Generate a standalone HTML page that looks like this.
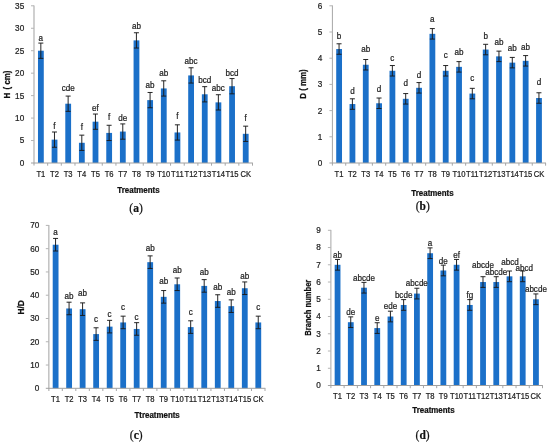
<!DOCTYPE html>
<html><head><meta charset="utf-8"><title>Figure</title>
<style>html,body{margin:0;padding:0;background:#fff}svg{display:block}</style></head>
<body>
<svg width="550" height="445" viewBox="0 0 550 445">
<rect width="550" height="445" fill="#fff"/>
<g><rect x="37.98" y="50.71" width="5.8" height="112.29" fill="#1b70c9"/>
<rect x="51.63" y="139.64" width="5.8" height="23.36" fill="#1b70c9"/>
<rect x="65.29" y="103.71" width="5.8" height="59.29" fill="#1b70c9"/>
<rect x="78.95" y="142.79" width="5.8" height="20.21" fill="#1b70c9"/>
<rect x="92.60" y="121.68" width="5.8" height="41.32" fill="#1b70c9"/>
<rect x="106.26" y="132.91" width="5.8" height="30.09" fill="#1b70c9"/>
<rect x="119.92" y="131.56" width="5.8" height="31.44" fill="#1b70c9"/>
<rect x="133.57" y="40.38" width="5.8" height="122.62" fill="#1b70c9"/>
<rect x="147.23" y="100.12" width="5.8" height="62.88" fill="#1b70c9"/>
<rect x="160.88" y="88.44" width="5.8" height="74.56" fill="#1b70c9"/>
<rect x="174.54" y="132.46" width="5.8" height="30.54" fill="#1b70c9"/>
<rect x="188.20" y="75.42" width="5.8" height="87.58" fill="#1b70c9"/>
<rect x="201.85" y="94.28" width="5.8" height="68.72" fill="#1b70c9"/>
<rect x="215.51" y="102.37" width="5.8" height="60.63" fill="#1b70c9"/>
<rect x="229.17" y="86.20" width="5.8" height="76.80" fill="#1b70c9"/>
<rect x="242.82" y="133.81" width="5.8" height="29.19" fill="#1b70c9"/>
<path d="M34.00 5.40V165.60" stroke="#c4c4c4" stroke-width="1.6" fill="none"/>
<path d="M31.00 163.00H252.90" stroke="#a0a0a0" stroke-width="1" fill="none"/>
<path d="M31.00 140.54H34.00M31.00 118.09H34.00M31.00 95.63H34.00M31.00 73.17H34.00M31.00 50.71H34.00M31.00 28.26H34.00M31.00 5.80H34.00" stroke="#b4b4b4" stroke-width="1" fill="none"/>
<text transform="translate(24.20,165.90) scale(1.0,1)" font-size="8.2" text-anchor="end" font-weight="normal" font-family="'Liberation Sans',sans-serif" fill="#222" stroke="#222" stroke-width="0.22">0</text>
<text transform="translate(24.20,143.44) scale(1.0,1)" font-size="8.2" text-anchor="end" font-weight="normal" font-family="'Liberation Sans',sans-serif" fill="#222" stroke="#222" stroke-width="0.22">5</text>
<text transform="translate(24.20,120.99) scale(1.0,1)" font-size="8.2" text-anchor="end" font-weight="normal" font-family="'Liberation Sans',sans-serif" fill="#222" stroke="#222" stroke-width="0.22">10</text>
<text transform="translate(24.20,98.53) scale(1.0,1)" font-size="8.2" text-anchor="end" font-weight="normal" font-family="'Liberation Sans',sans-serif" fill="#222" stroke="#222" stroke-width="0.22">15</text>
<text transform="translate(24.20,76.07) scale(1.0,1)" font-size="8.2" text-anchor="end" font-weight="normal" font-family="'Liberation Sans',sans-serif" fill="#222" stroke="#222" stroke-width="0.22">20</text>
<text transform="translate(24.20,53.61) scale(1.0,1)" font-size="8.2" text-anchor="end" font-weight="normal" font-family="'Liberation Sans',sans-serif" fill="#222" stroke="#222" stroke-width="0.22">25</text>
<text transform="translate(24.20,31.16) scale(1.0,1)" font-size="8.2" text-anchor="end" font-weight="normal" font-family="'Liberation Sans',sans-serif" fill="#222" stroke="#222" stroke-width="0.22">30</text>
<text transform="translate(24.20,8.70) scale(1.0,1)" font-size="8.2" text-anchor="end" font-weight="normal" font-family="'Liberation Sans',sans-serif" fill="#222" stroke="#222" stroke-width="0.22">35</text>
<path d="M47.66 163.00V165.70M61.31 163.00V165.70M74.97 163.00V165.70M88.62 163.00V165.70M102.28 163.00V165.70M115.94 163.00V165.70M129.59 163.00V165.70M143.25 163.00V165.70M156.91 163.00V165.70M170.56 163.00V165.70M184.22 163.00V165.70M197.88 163.00V165.70M211.53 163.00V165.70M225.19 163.00V165.70M238.84 163.00V165.70M252.50 163.00V165.70" stroke="#a6a6a6" stroke-width="1" fill="none"/>
<text transform="translate(40.83,40.70) scale(0.95,1)" font-size="8.5" text-anchor="middle" font-weight="normal" font-family="'Liberation Sans',sans-serif" fill="#222" stroke="#222" stroke-width="0.22">a</text>
<text transform="translate(40.83,177.00) scale(0.93,1)" font-size="8.2" text-anchor="middle" font-weight="normal" font-family="'Liberation Sans',sans-serif" fill="#222" stroke="#222" stroke-width="0.22">T1</text>
<text transform="translate(54.48,128.80) scale(0.95,1)" font-size="8.5" text-anchor="middle" font-weight="normal" font-family="'Liberation Sans',sans-serif" fill="#222" stroke="#222" stroke-width="0.22">f</text>
<text transform="translate(54.48,177.00) scale(0.93,1)" font-size="8.2" text-anchor="middle" font-weight="normal" font-family="'Liberation Sans',sans-serif" fill="#222" stroke="#222" stroke-width="0.22">T2</text>
<text transform="translate(68.14,90.80) scale(0.95,1)" font-size="8.5" text-anchor="middle" font-weight="normal" font-family="'Liberation Sans',sans-serif" fill="#222" stroke="#222" stroke-width="0.22">cde</text>
<text transform="translate(68.14,177.00) scale(0.93,1)" font-size="8.2" text-anchor="middle" font-weight="normal" font-family="'Liberation Sans',sans-serif" fill="#222" stroke="#222" stroke-width="0.22">T3</text>
<text transform="translate(81.80,130.10) scale(0.95,1)" font-size="8.5" text-anchor="middle" font-weight="normal" font-family="'Liberation Sans',sans-serif" fill="#222" stroke="#222" stroke-width="0.22">f</text>
<text transform="translate(81.80,177.00) scale(0.93,1)" font-size="8.2" text-anchor="middle" font-weight="normal" font-family="'Liberation Sans',sans-serif" fill="#222" stroke="#222" stroke-width="0.22">T4</text>
<text transform="translate(95.45,110.70) scale(0.95,1)" font-size="8.5" text-anchor="middle" font-weight="normal" font-family="'Liberation Sans',sans-serif" fill="#222" stroke="#222" stroke-width="0.22">ef</text>
<text transform="translate(95.45,177.00) scale(0.93,1)" font-size="8.2" text-anchor="middle" font-weight="normal" font-family="'Liberation Sans',sans-serif" fill="#222" stroke="#222" stroke-width="0.22">T5</text>
<text transform="translate(109.11,119.70) scale(0.95,1)" font-size="8.5" text-anchor="middle" font-weight="normal" font-family="'Liberation Sans',sans-serif" fill="#222" stroke="#222" stroke-width="0.22">f</text>
<text transform="translate(109.11,177.00) scale(0.93,1)" font-size="8.2" text-anchor="middle" font-weight="normal" font-family="'Liberation Sans',sans-serif" fill="#222" stroke="#222" stroke-width="0.22">T6</text>
<text transform="translate(122.77,121.00) scale(0.95,1)" font-size="8.5" text-anchor="middle" font-weight="normal" font-family="'Liberation Sans',sans-serif" fill="#222" stroke="#222" stroke-width="0.22">de</text>
<text transform="translate(122.77,177.00) scale(0.93,1)" font-size="8.2" text-anchor="middle" font-weight="normal" font-family="'Liberation Sans',sans-serif" fill="#222" stroke="#222" stroke-width="0.22">T7</text>
<text transform="translate(136.42,28.90) scale(0.95,1)" font-size="8.5" text-anchor="middle" font-weight="normal" font-family="'Liberation Sans',sans-serif" fill="#222" stroke="#222" stroke-width="0.22">ab</text>
<text transform="translate(136.42,177.00) scale(0.93,1)" font-size="8.2" text-anchor="middle" font-weight="normal" font-family="'Liberation Sans',sans-serif" fill="#222" stroke="#222" stroke-width="0.22">T8</text>
<text transform="translate(150.08,87.60) scale(0.95,1)" font-size="8.5" text-anchor="middle" font-weight="normal" font-family="'Liberation Sans',sans-serif" fill="#222" stroke="#222" stroke-width="0.22">ab</text>
<text transform="translate(150.08,177.00) scale(0.93,1)" font-size="8.2" text-anchor="middle" font-weight="normal" font-family="'Liberation Sans',sans-serif" fill="#222" stroke="#222" stroke-width="0.22">T9</text>
<text transform="translate(163.73,76.00) scale(0.95,1)" font-size="8.5" text-anchor="middle" font-weight="normal" font-family="'Liberation Sans',sans-serif" fill="#222" stroke="#222" stroke-width="0.22">ab</text>
<text transform="translate(163.73,177.00) scale(0.93,1)" font-size="8.2" text-anchor="middle" font-weight="normal" font-family="'Liberation Sans',sans-serif" fill="#222" stroke="#222" stroke-width="0.22">T10</text>
<text transform="translate(177.39,118.50) scale(0.95,1)" font-size="8.5" text-anchor="middle" font-weight="normal" font-family="'Liberation Sans',sans-serif" fill="#222" stroke="#222" stroke-width="0.22">f</text>
<text transform="translate(177.39,177.00) scale(0.93,1)" font-size="8.2" text-anchor="middle" font-weight="normal" font-family="'Liberation Sans',sans-serif" fill="#222" stroke="#222" stroke-width="0.22">T11</text>
<text transform="translate(191.05,64.40) scale(0.95,1)" font-size="8.5" text-anchor="middle" font-weight="normal" font-family="'Liberation Sans',sans-serif" fill="#222" stroke="#222" stroke-width="0.22">abc</text>
<text transform="translate(191.05,177.00) scale(0.93,1)" font-size="8.2" text-anchor="middle" font-weight="normal" font-family="'Liberation Sans',sans-serif" fill="#222" stroke="#222" stroke-width="0.22">T12</text>
<text transform="translate(204.70,82.60) scale(0.95,1)" font-size="8.5" text-anchor="middle" font-weight="normal" font-family="'Liberation Sans',sans-serif" fill="#222" stroke="#222" stroke-width="0.22">bcd</text>
<text transform="translate(204.70,177.00) scale(0.93,1)" font-size="8.2" text-anchor="middle" font-weight="normal" font-family="'Liberation Sans',sans-serif" fill="#222" stroke="#222" stroke-width="0.22">T13</text>
<text transform="translate(218.36,91.00) scale(0.95,1)" font-size="8.5" text-anchor="middle" font-weight="normal" font-family="'Liberation Sans',sans-serif" fill="#222" stroke="#222" stroke-width="0.22">abc</text>
<text transform="translate(218.36,177.00) scale(0.93,1)" font-size="8.2" text-anchor="middle" font-weight="normal" font-family="'Liberation Sans',sans-serif" fill="#222" stroke="#222" stroke-width="0.22">T14</text>
<text transform="translate(232.02,75.70) scale(0.95,1)" font-size="8.5" text-anchor="middle" font-weight="normal" font-family="'Liberation Sans',sans-serif" fill="#222" stroke="#222" stroke-width="0.22">bcd</text>
<text transform="translate(232.02,177.00) scale(0.93,1)" font-size="8.2" text-anchor="middle" font-weight="normal" font-family="'Liberation Sans',sans-serif" fill="#222" stroke="#222" stroke-width="0.22">T15</text>
<text transform="translate(245.67,121.00) scale(0.95,1)" font-size="8.5" text-anchor="middle" font-weight="normal" font-family="'Liberation Sans',sans-serif" fill="#222" stroke="#222" stroke-width="0.22">f</text>
<text transform="translate(245.67,177.00) scale(0.93,1)" font-size="8.2" text-anchor="middle" font-weight="normal" font-family="'Liberation Sans',sans-serif" fill="#222" stroke="#222" stroke-width="0.22">CK</text>
<path d="M40.83 43.08V58.35M38.33 43.08h5M38.33 58.35h5M54.48 132.01V147.28M51.98 132.01h5M51.98 147.28h5M68.14 96.08V111.35M65.64 96.08h5M65.64 111.35h5M81.80 135.15V150.42M79.30 135.15h5M79.30 150.42h5M95.45 114.04V129.31M92.95 114.04h5M92.95 129.31h5M109.11 125.27V140.54M106.61 125.27h5M106.61 140.54h5M122.77 123.92V139.20M120.27 123.92h5M120.27 139.20h5M136.42 32.75V48.02M133.92 32.75h5M133.92 48.02h5M150.08 92.48V107.76M147.58 92.48h5M147.58 107.76h5M163.73 80.81V96.08M161.23 80.81h5M161.23 96.08h5M177.39 124.82V140.09M174.89 124.82h5M174.89 140.09h5M191.05 67.78V83.05M188.55 67.78h5M188.55 83.05h5M204.70 86.65V101.92M202.20 86.65h5M202.20 101.92h5M218.36 94.73V110.00M215.86 94.73h5M215.86 110.00h5M232.02 78.56V93.83M229.52 78.56h5M229.52 93.83h5M245.67 126.17V141.44M243.17 126.17h5M243.17 141.44h5" stroke="#1a1a1a" stroke-width="0.95" fill="none"/>
<text transform="translate(10.30,84.50) rotate(-90) scale(0.92,1)" font-size="8.6" text-anchor="middle" font-weight="bold" font-family="'Liberation Sans',sans-serif" fill="#111" stroke="#111" stroke-width="0.25">H <tspan dx="1.2">( cm)</tspan></text>
<text transform="translate(138.50,193.00) scale(0.955,1)" font-size="8.3" text-anchor="middle" font-weight="bold" font-family="'Liberation Sans',sans-serif" fill="#111" stroke="#111" stroke-width="0.25">Treatments</text>
<text x="136" y="211.8" font-size="11.5" text-anchor="middle" font-family="'Liberation Serif',serif" fill="#111" stroke="#111" stroke-width="0.2">(<tspan font-weight="bold">a</tspan>)</text></g>
<g><rect x="336.21" y="49.03" width="5.8" height="113.97" fill="#1b70c9"/>
<rect x="349.54" y="104.05" width="5.8" height="58.95" fill="#1b70c9"/>
<rect x="362.86" y="64.75" width="5.8" height="98.25" fill="#1b70c9"/>
<rect x="376.19" y="103.26" width="5.8" height="59.74" fill="#1b70c9"/>
<rect x="389.51" y="70.78" width="5.8" height="92.22" fill="#1b70c9"/>
<rect x="402.84" y="98.81" width="5.8" height="64.19" fill="#1b70c9"/>
<rect x="416.16" y="87.81" width="5.8" height="75.19" fill="#1b70c9"/>
<rect x="429.49" y="33.83" width="5.8" height="129.17" fill="#1b70c9"/>
<rect x="442.81" y="70.78" width="5.8" height="92.22" fill="#1b70c9"/>
<rect x="456.14" y="66.85" width="5.8" height="96.15" fill="#1b70c9"/>
<rect x="469.46" y="93.57" width="5.8" height="69.43" fill="#1b70c9"/>
<rect x="482.79" y="49.55" width="5.8" height="113.45" fill="#1b70c9"/>
<rect x="496.11" y="56.37" width="5.8" height="106.63" fill="#1b70c9"/>
<rect x="509.44" y="62.65" width="5.8" height="100.35" fill="#1b70c9"/>
<rect x="522.76" y="60.82" width="5.8" height="102.18" fill="#1b70c9"/>
<rect x="536.09" y="98.02" width="5.8" height="64.98" fill="#1b70c9"/>
<path d="M332.40 5.40V165.60" stroke="#a6a6a6" stroke-width="1.0" fill="none"/>
<path d="M329.40 163.00H546.00" stroke="#a0a0a0" stroke-width="1" fill="none"/>
<path d="M329.40 136.80H332.40M329.40 110.60H332.40M329.40 84.40H332.40M329.40 58.20H332.40M329.40 32.00H332.40M329.40 5.80H332.40" stroke="#b4b4b4" stroke-width="1" fill="none"/>
<text transform="translate(322.20,165.90) scale(1.0,1)" font-size="8.2" text-anchor="end" font-weight="normal" font-family="'Liberation Sans',sans-serif" fill="#222" stroke="#222" stroke-width="0.22">0</text>
<text transform="translate(322.20,139.70) scale(1.0,1)" font-size="8.2" text-anchor="end" font-weight="normal" font-family="'Liberation Sans',sans-serif" fill="#222" stroke="#222" stroke-width="0.22">1</text>
<text transform="translate(322.20,113.50) scale(1.0,1)" font-size="8.2" text-anchor="end" font-weight="normal" font-family="'Liberation Sans',sans-serif" fill="#222" stroke="#222" stroke-width="0.22">2</text>
<text transform="translate(322.20,87.30) scale(1.0,1)" font-size="8.2" text-anchor="end" font-weight="normal" font-family="'Liberation Sans',sans-serif" fill="#222" stroke="#222" stroke-width="0.22">3</text>
<text transform="translate(322.20,61.10) scale(1.0,1)" font-size="8.2" text-anchor="end" font-weight="normal" font-family="'Liberation Sans',sans-serif" fill="#222" stroke="#222" stroke-width="0.22">4</text>
<text transform="translate(322.20,34.90) scale(1.0,1)" font-size="8.2" text-anchor="end" font-weight="normal" font-family="'Liberation Sans',sans-serif" fill="#222" stroke="#222" stroke-width="0.22">5</text>
<text transform="translate(322.20,8.70) scale(1.0,1)" font-size="8.2" text-anchor="end" font-weight="normal" font-family="'Liberation Sans',sans-serif" fill="#222" stroke="#222" stroke-width="0.22">6</text>
<path d="M345.72 163.00V165.70M359.05 163.00V165.70M372.38 163.00V165.70M385.70 163.00V165.70M399.02 163.00V165.70M412.35 163.00V165.70M425.68 163.00V165.70M439.00 163.00V165.70M452.32 163.00V165.70M465.65 163.00V165.70M478.98 163.00V165.70M492.30 163.00V165.70M505.62 163.00V165.70M518.95 163.00V165.70M532.28 163.00V165.70M545.60 163.00V165.70" stroke="#a6a6a6" stroke-width="1" fill="none"/>
<text transform="translate(339.06,39.40) scale(0.95,1)" font-size="8.5" text-anchor="middle" font-weight="normal" font-family="'Liberation Sans',sans-serif" fill="#222" stroke="#222" stroke-width="0.22">b</text>
<text transform="translate(339.06,176.50) scale(0.93,1)" font-size="8.2" text-anchor="middle" font-weight="normal" font-family="'Liberation Sans',sans-serif" fill="#222" stroke="#222" stroke-width="0.22">T1</text>
<text transform="translate(352.39,94.10) scale(0.95,1)" font-size="8.5" text-anchor="middle" font-weight="normal" font-family="'Liberation Sans',sans-serif" fill="#222" stroke="#222" stroke-width="0.22">d</text>
<text transform="translate(352.39,176.50) scale(0.93,1)" font-size="8.2" text-anchor="middle" font-weight="normal" font-family="'Liberation Sans',sans-serif" fill="#222" stroke="#222" stroke-width="0.22">T2</text>
<text transform="translate(365.71,51.70) scale(0.95,1)" font-size="8.5" text-anchor="middle" font-weight="normal" font-family="'Liberation Sans',sans-serif" fill="#222" stroke="#222" stroke-width="0.22">ab</text>
<text transform="translate(365.71,176.50) scale(0.93,1)" font-size="8.2" text-anchor="middle" font-weight="normal" font-family="'Liberation Sans',sans-serif" fill="#222" stroke="#222" stroke-width="0.22">T3</text>
<text transform="translate(379.04,91.60) scale(0.95,1)" font-size="8.5" text-anchor="middle" font-weight="normal" font-family="'Liberation Sans',sans-serif" fill="#222" stroke="#222" stroke-width="0.22">d</text>
<text transform="translate(379.04,176.50) scale(0.93,1)" font-size="8.2" text-anchor="middle" font-weight="normal" font-family="'Liberation Sans',sans-serif" fill="#222" stroke="#222" stroke-width="0.22">T4</text>
<text transform="translate(392.36,61.10) scale(0.95,1)" font-size="8.5" text-anchor="middle" font-weight="normal" font-family="'Liberation Sans',sans-serif" fill="#222" stroke="#222" stroke-width="0.22">c</text>
<text transform="translate(392.36,176.50) scale(0.93,1)" font-size="8.2" text-anchor="middle" font-weight="normal" font-family="'Liberation Sans',sans-serif" fill="#222" stroke="#222" stroke-width="0.22">T5</text>
<text transform="translate(405.69,86.00) scale(0.95,1)" font-size="8.5" text-anchor="middle" font-weight="normal" font-family="'Liberation Sans',sans-serif" fill="#222" stroke="#222" stroke-width="0.22">d</text>
<text transform="translate(405.69,176.50) scale(0.93,1)" font-size="8.2" text-anchor="middle" font-weight="normal" font-family="'Liberation Sans',sans-serif" fill="#222" stroke="#222" stroke-width="0.22">T6</text>
<text transform="translate(419.01,77.90) scale(0.95,1)" font-size="8.5" text-anchor="middle" font-weight="normal" font-family="'Liberation Sans',sans-serif" fill="#222" stroke="#222" stroke-width="0.22">d</text>
<text transform="translate(419.01,176.50) scale(0.93,1)" font-size="8.2" text-anchor="middle" font-weight="normal" font-family="'Liberation Sans',sans-serif" fill="#222" stroke="#222" stroke-width="0.22">T7</text>
<text transform="translate(432.34,22.40) scale(0.95,1)" font-size="8.5" text-anchor="middle" font-weight="normal" font-family="'Liberation Sans',sans-serif" fill="#222" stroke="#222" stroke-width="0.22">a</text>
<text transform="translate(432.34,176.50) scale(0.93,1)" font-size="8.2" text-anchor="middle" font-weight="normal" font-family="'Liberation Sans',sans-serif" fill="#222" stroke="#222" stroke-width="0.22">T8</text>
<text transform="translate(445.66,58.00) scale(0.95,1)" font-size="8.5" text-anchor="middle" font-weight="normal" font-family="'Liberation Sans',sans-serif" fill="#222" stroke="#222" stroke-width="0.22">c</text>
<text transform="translate(445.66,176.50) scale(0.93,1)" font-size="8.2" text-anchor="middle" font-weight="normal" font-family="'Liberation Sans',sans-serif" fill="#222" stroke="#222" stroke-width="0.22">T9</text>
<text transform="translate(458.99,54.70) scale(0.95,1)" font-size="8.5" text-anchor="middle" font-weight="normal" font-family="'Liberation Sans',sans-serif" fill="#222" stroke="#222" stroke-width="0.22">ab</text>
<text transform="translate(458.99,176.50) scale(0.93,1)" font-size="8.2" text-anchor="middle" font-weight="normal" font-family="'Liberation Sans',sans-serif" fill="#222" stroke="#222" stroke-width="0.22">T10</text>
<text transform="translate(472.31,80.90) scale(0.95,1)" font-size="8.5" text-anchor="middle" font-weight="normal" font-family="'Liberation Sans',sans-serif" fill="#222" stroke="#222" stroke-width="0.22">c</text>
<text transform="translate(472.31,176.50) scale(0.93,1)" font-size="8.2" text-anchor="middle" font-weight="normal" font-family="'Liberation Sans',sans-serif" fill="#222" stroke="#222" stroke-width="0.22">T11</text>
<text transform="translate(485.64,38.90) scale(0.95,1)" font-size="8.5" text-anchor="middle" font-weight="normal" font-family="'Liberation Sans',sans-serif" fill="#222" stroke="#222" stroke-width="0.22">b</text>
<text transform="translate(485.64,176.50) scale(0.93,1)" font-size="8.2" text-anchor="middle" font-weight="normal" font-family="'Liberation Sans',sans-serif" fill="#222" stroke="#222" stroke-width="0.22">T12</text>
<text transform="translate(498.96,45.00) scale(0.95,1)" font-size="8.5" text-anchor="middle" font-weight="normal" font-family="'Liberation Sans',sans-serif" fill="#222" stroke="#222" stroke-width="0.22">ab</text>
<text transform="translate(498.96,176.50) scale(0.93,1)" font-size="8.2" text-anchor="middle" font-weight="normal" font-family="'Liberation Sans',sans-serif" fill="#222" stroke="#222" stroke-width="0.22">T13</text>
<text transform="translate(512.29,50.90) scale(0.95,1)" font-size="8.5" text-anchor="middle" font-weight="normal" font-family="'Liberation Sans',sans-serif" fill="#222" stroke="#222" stroke-width="0.22">ab</text>
<text transform="translate(512.29,176.50) scale(0.93,1)" font-size="8.2" text-anchor="middle" font-weight="normal" font-family="'Liberation Sans',sans-serif" fill="#222" stroke="#222" stroke-width="0.22">T14</text>
<text transform="translate(525.61,50.40) scale(0.95,1)" font-size="8.5" text-anchor="middle" font-weight="normal" font-family="'Liberation Sans',sans-serif" fill="#222" stroke="#222" stroke-width="0.22">ab</text>
<text transform="translate(525.61,176.50) scale(0.93,1)" font-size="8.2" text-anchor="middle" font-weight="normal" font-family="'Liberation Sans',sans-serif" fill="#222" stroke="#222" stroke-width="0.22">T15</text>
<text transform="translate(538.94,85.20) scale(0.95,1)" font-size="8.5" text-anchor="middle" font-weight="normal" font-family="'Liberation Sans',sans-serif" fill="#222" stroke="#222" stroke-width="0.22">d</text>
<text transform="translate(538.94,176.50) scale(0.93,1)" font-size="8.2" text-anchor="middle" font-weight="normal" font-family="'Liberation Sans',sans-serif" fill="#222" stroke="#222" stroke-width="0.22">CK</text>
<path d="M339.06 43.79V54.27M336.56 43.79h5M336.56 54.27h5M352.39 98.81V109.29M349.89 98.81h5M349.89 109.29h5M365.71 59.51V69.99M363.21 59.51h5M363.21 69.99h5M379.04 98.02V108.50M376.54 98.02h5M376.54 108.50h5M392.36 65.54V76.02M389.86 65.54h5M389.86 76.02h5M405.69 93.57V104.05M403.19 93.57h5M403.19 104.05h5M419.01 82.57V93.05M416.51 82.57h5M416.51 93.05h5M432.34 28.59V39.07M429.84 28.59h5M429.84 39.07h5M445.66 65.54V76.02M443.16 65.54h5M443.16 76.02h5M458.99 61.61V72.09M456.49 61.61h5M456.49 72.09h5M472.31 88.33V98.81M469.81 88.33h5M469.81 98.81h5M485.64 44.31V54.79M483.14 44.31h5M483.14 54.79h5M498.96 51.13V61.61M496.46 51.13h5M496.46 61.61h5M512.29 57.41V67.89M509.79 57.41h5M509.79 67.89h5M525.61 55.58V66.06M523.11 55.58h5M523.11 66.06h5M538.94 92.78V103.26M536.44 92.78h5M536.44 103.26h5" stroke="#1a1a1a" stroke-width="0.95" fill="none"/>
<text transform="translate(305.90,84.00) rotate(-90) scale(0.92,1)" font-size="8.6" text-anchor="middle" font-weight="bold" font-family="'Liberation Sans',sans-serif" fill="#111" stroke="#111" stroke-width="0.25">D ( mm)</text>
<text transform="translate(432.50,195.50) scale(0.955,1)" font-size="8.3" text-anchor="middle" font-weight="bold" font-family="'Liberation Sans',sans-serif" fill="#111" stroke="#111" stroke-width="0.25">Treatments</text>
<text x="422.7" y="209.9" font-size="11.5" text-anchor="middle" font-family="'Liberation Serif',serif" fill="#111" stroke="#111" stroke-width="0.2">(<tspan font-weight="bold">b</tspan>)</text></g>
<g><rect x="52.71" y="244.72" width="5.8" height="143.58" fill="#1b70c9"/>
<rect x="66.22" y="308.48" width="5.8" height="79.82" fill="#1b70c9"/>
<rect x="79.73" y="309.18" width="5.8" height="79.12" fill="#1b70c9"/>
<rect x="93.24" y="334.08" width="5.8" height="54.22" fill="#1b70c9"/>
<rect x="106.76" y="326.63" width="5.8" height="61.67" fill="#1b70c9"/>
<rect x="120.27" y="322.44" width="5.8" height="65.86" fill="#1b70c9"/>
<rect x="133.78" y="328.96" width="5.8" height="59.34" fill="#1b70c9"/>
<rect x="147.29" y="262.17" width="5.8" height="126.13" fill="#1b70c9"/>
<rect x="160.81" y="296.84" width="5.8" height="91.46" fill="#1b70c9"/>
<rect x="174.32" y="284.28" width="5.8" height="104.02" fill="#1b70c9"/>
<rect x="187.83" y="327.10" width="5.8" height="61.20" fill="#1b70c9"/>
<rect x="201.34" y="285.91" width="5.8" height="102.39" fill="#1b70c9"/>
<rect x="214.86" y="301.03" width="5.8" height="87.27" fill="#1b70c9"/>
<rect x="228.37" y="306.15" width="5.8" height="82.15" fill="#1b70c9"/>
<rect x="241.88" y="288.23" width="5.8" height="100.07" fill="#1b70c9"/>
<rect x="255.39" y="322.44" width="5.8" height="65.86" fill="#1b70c9"/>
<path d="M48.80 225.00V390.90" stroke="#c4c4c4" stroke-width="1.6" fill="none"/>
<path d="M45.80 388.30H265.40" stroke="#a0a0a0" stroke-width="1" fill="none"/>
<path d="M45.80 365.03H48.80M45.80 341.76H48.80M45.80 318.49H48.80M45.80 295.21H48.80M45.80 271.94H48.80M45.80 248.67H48.80M45.80 225.40H48.80" stroke="#b4b4b4" stroke-width="1" fill="none"/>
<text transform="translate(39.30,391.20) scale(1.0,1)" font-size="8.2" text-anchor="end" font-weight="normal" font-family="'Liberation Sans',sans-serif" fill="#222" stroke="#222" stroke-width="0.22">0</text>
<text transform="translate(39.30,367.93) scale(1.0,1)" font-size="8.2" text-anchor="end" font-weight="normal" font-family="'Liberation Sans',sans-serif" fill="#222" stroke="#222" stroke-width="0.22">10</text>
<text transform="translate(39.30,344.66) scale(1.0,1)" font-size="8.2" text-anchor="end" font-weight="normal" font-family="'Liberation Sans',sans-serif" fill="#222" stroke="#222" stroke-width="0.22">20</text>
<text transform="translate(39.30,321.39) scale(1.0,1)" font-size="8.2" text-anchor="end" font-weight="normal" font-family="'Liberation Sans',sans-serif" fill="#222" stroke="#222" stroke-width="0.22">30</text>
<text transform="translate(39.30,298.11) scale(1.0,1)" font-size="8.2" text-anchor="end" font-weight="normal" font-family="'Liberation Sans',sans-serif" fill="#222" stroke="#222" stroke-width="0.22">40</text>
<text transform="translate(39.30,274.84) scale(1.0,1)" font-size="8.2" text-anchor="end" font-weight="normal" font-family="'Liberation Sans',sans-serif" fill="#222" stroke="#222" stroke-width="0.22">50</text>
<text transform="translate(39.30,251.57) scale(1.0,1)" font-size="8.2" text-anchor="end" font-weight="normal" font-family="'Liberation Sans',sans-serif" fill="#222" stroke="#222" stroke-width="0.22">60</text>
<text transform="translate(39.30,228.30) scale(1.0,1)" font-size="8.2" text-anchor="end" font-weight="normal" font-family="'Liberation Sans',sans-serif" fill="#222" stroke="#222" stroke-width="0.22">70</text>
<path d="M62.31 388.30V391.00M75.82 388.30V391.00M89.34 388.30V391.00M102.85 388.30V391.00M116.36 388.30V391.00M129.88 388.30V391.00M143.39 388.30V391.00M156.90 388.30V391.00M170.41 388.30V391.00M183.93 388.30V391.00M197.44 388.30V391.00M210.95 388.30V391.00M224.46 388.30V391.00M237.97 388.30V391.00M251.49 388.30V391.00M265.00 388.30V391.00" stroke="#a6a6a6" stroke-width="1" fill="none"/>
<text transform="translate(55.56,234.70) scale(0.95,1)" font-size="8.5" text-anchor="middle" font-weight="normal" font-family="'Liberation Sans',sans-serif" fill="#222" stroke="#222" stroke-width="0.22">a</text>
<text transform="translate(55.56,402.20) scale(0.93,1)" font-size="8.2" text-anchor="middle" font-weight="normal" font-family="'Liberation Sans',sans-serif" fill="#222" stroke="#222" stroke-width="0.22">T1</text>
<text transform="translate(69.07,298.80) scale(0.95,1)" font-size="8.5" text-anchor="middle" font-weight="normal" font-family="'Liberation Sans',sans-serif" fill="#222" stroke="#222" stroke-width="0.22">ab</text>
<text transform="translate(69.07,402.20) scale(0.93,1)" font-size="8.2" text-anchor="middle" font-weight="normal" font-family="'Liberation Sans',sans-serif" fill="#222" stroke="#222" stroke-width="0.22">T2</text>
<text transform="translate(82.58,296.30) scale(0.95,1)" font-size="8.5" text-anchor="middle" font-weight="normal" font-family="'Liberation Sans',sans-serif" fill="#222" stroke="#222" stroke-width="0.22">ab</text>
<text transform="translate(82.58,402.20) scale(0.93,1)" font-size="8.2" text-anchor="middle" font-weight="normal" font-family="'Liberation Sans',sans-serif" fill="#222" stroke="#222" stroke-width="0.22">T3</text>
<text transform="translate(96.09,322.00) scale(0.95,1)" font-size="8.5" text-anchor="middle" font-weight="normal" font-family="'Liberation Sans',sans-serif" fill="#222" stroke="#222" stroke-width="0.22">c</text>
<text transform="translate(96.09,402.20) scale(0.93,1)" font-size="8.2" text-anchor="middle" font-weight="normal" font-family="'Liberation Sans',sans-serif" fill="#222" stroke="#222" stroke-width="0.22">T4</text>
<text transform="translate(109.61,316.70) scale(0.95,1)" font-size="8.5" text-anchor="middle" font-weight="normal" font-family="'Liberation Sans',sans-serif" fill="#222" stroke="#222" stroke-width="0.22">c</text>
<text transform="translate(109.61,402.20) scale(0.93,1)" font-size="8.2" text-anchor="middle" font-weight="normal" font-family="'Liberation Sans',sans-serif" fill="#222" stroke="#222" stroke-width="0.22">T5</text>
<text transform="translate(123.12,309.80) scale(0.95,1)" font-size="8.5" text-anchor="middle" font-weight="normal" font-family="'Liberation Sans',sans-serif" fill="#222" stroke="#222" stroke-width="0.22">c</text>
<text transform="translate(123.12,402.20) scale(0.93,1)" font-size="8.2" text-anchor="middle" font-weight="normal" font-family="'Liberation Sans',sans-serif" fill="#222" stroke="#222" stroke-width="0.22">T6</text>
<text transform="translate(136.63,319.50) scale(0.95,1)" font-size="8.5" text-anchor="middle" font-weight="normal" font-family="'Liberation Sans',sans-serif" fill="#222" stroke="#222" stroke-width="0.22">c</text>
<text transform="translate(136.63,402.20) scale(0.93,1)" font-size="8.2" text-anchor="middle" font-weight="normal" font-family="'Liberation Sans',sans-serif" fill="#222" stroke="#222" stroke-width="0.22">T7</text>
<text transform="translate(150.14,251.00) scale(0.95,1)" font-size="8.5" text-anchor="middle" font-weight="normal" font-family="'Liberation Sans',sans-serif" fill="#222" stroke="#222" stroke-width="0.22">ab</text>
<text transform="translate(150.14,402.20) scale(0.93,1)" font-size="8.2" text-anchor="middle" font-weight="normal" font-family="'Liberation Sans',sans-serif" fill="#222" stroke="#222" stroke-width="0.22">T8</text>
<text transform="translate(163.66,284.00) scale(0.95,1)" font-size="8.5" text-anchor="middle" font-weight="normal" font-family="'Liberation Sans',sans-serif" fill="#222" stroke="#222" stroke-width="0.22">ab</text>
<text transform="translate(163.66,402.20) scale(0.93,1)" font-size="8.2" text-anchor="middle" font-weight="normal" font-family="'Liberation Sans',sans-serif" fill="#222" stroke="#222" stroke-width="0.22">T9</text>
<text transform="translate(177.17,272.70) scale(0.95,1)" font-size="8.5" text-anchor="middle" font-weight="normal" font-family="'Liberation Sans',sans-serif" fill="#222" stroke="#222" stroke-width="0.22">ab</text>
<text transform="translate(177.17,402.20) scale(0.93,1)" font-size="8.2" text-anchor="middle" font-weight="normal" font-family="'Liberation Sans',sans-serif" fill="#222" stroke="#222" stroke-width="0.22">T10</text>
<text transform="translate(190.68,314.90) scale(0.95,1)" font-size="8.5" text-anchor="middle" font-weight="normal" font-family="'Liberation Sans',sans-serif" fill="#222" stroke="#222" stroke-width="0.22">c</text>
<text transform="translate(190.68,402.20) scale(0.93,1)" font-size="8.2" text-anchor="middle" font-weight="normal" font-family="'Liberation Sans',sans-serif" fill="#222" stroke="#222" stroke-width="0.22">T11</text>
<text transform="translate(204.19,274.80) scale(0.95,1)" font-size="8.5" text-anchor="middle" font-weight="normal" font-family="'Liberation Sans',sans-serif" fill="#222" stroke="#222" stroke-width="0.22">ab</text>
<text transform="translate(204.19,402.20) scale(0.93,1)" font-size="8.2" text-anchor="middle" font-weight="normal" font-family="'Liberation Sans',sans-serif" fill="#222" stroke="#222" stroke-width="0.22">T12</text>
<text transform="translate(217.71,289.80) scale(0.95,1)" font-size="8.5" text-anchor="middle" font-weight="normal" font-family="'Liberation Sans',sans-serif" fill="#222" stroke="#222" stroke-width="0.22">ab</text>
<text transform="translate(217.71,402.20) scale(0.93,1)" font-size="8.2" text-anchor="middle" font-weight="normal" font-family="'Liberation Sans',sans-serif" fill="#222" stroke="#222" stroke-width="0.22">T13</text>
<text transform="translate(231.22,295.40) scale(0.95,1)" font-size="8.5" text-anchor="middle" font-weight="normal" font-family="'Liberation Sans',sans-serif" fill="#222" stroke="#222" stroke-width="0.22">ab</text>
<text transform="translate(231.22,402.20) scale(0.93,1)" font-size="8.2" text-anchor="middle" font-weight="normal" font-family="'Liberation Sans',sans-serif" fill="#222" stroke="#222" stroke-width="0.22">T14</text>
<text transform="translate(244.73,279.30) scale(0.95,1)" font-size="8.5" text-anchor="middle" font-weight="normal" font-family="'Liberation Sans',sans-serif" fill="#222" stroke="#222" stroke-width="0.22">ab</text>
<text transform="translate(244.73,402.20) scale(0.93,1)" font-size="8.2" text-anchor="middle" font-weight="normal" font-family="'Liberation Sans',sans-serif" fill="#222" stroke="#222" stroke-width="0.22">T15</text>
<text transform="translate(258.24,309.90) scale(0.95,1)" font-size="8.5" text-anchor="middle" font-weight="normal" font-family="'Liberation Sans',sans-serif" fill="#222" stroke="#222" stroke-width="0.22">c</text>
<text transform="translate(258.24,402.20) scale(0.93,1)" font-size="8.2" text-anchor="middle" font-weight="normal" font-family="'Liberation Sans',sans-serif" fill="#222" stroke="#222" stroke-width="0.22">CK</text>
<path d="M55.56 238.43V251.00M53.06 238.43h5M53.06 251.00h5M69.07 302.20V314.76M66.57 302.20h5M66.57 314.76h5M82.58 302.89V315.46M80.08 302.89h5M80.08 315.46h5M96.09 327.79V340.36M93.59 327.79h5M93.59 340.36h5M109.61 320.35V332.91M107.11 320.35h5M107.11 332.91h5M123.12 316.16V328.73M120.62 316.16h5M120.62 328.73h5M136.63 322.67V335.24M134.13 322.67h5M134.13 335.24h5M150.14 255.89V268.45M147.64 255.89h5M147.64 268.45h5M163.66 290.56V303.13M161.16 290.56h5M161.16 303.13h5M177.17 277.99V290.56M174.67 277.99h5M174.67 290.56h5M190.68 320.81V333.38M188.18 320.81h5M188.18 333.38h5M204.19 279.62V292.19M201.69 279.62h5M201.69 292.19h5M217.71 294.75V307.32M215.21 294.75h5M215.21 307.32h5M231.22 299.87V312.44M228.72 299.87h5M228.72 312.44h5M244.73 281.95V294.52M242.23 281.95h5M242.23 294.52h5M258.24 316.16V328.73M255.74 316.16h5M255.74 328.73h5" stroke="#1a1a1a" stroke-width="0.95" fill="none"/>
<text transform="translate(24.40,307.30) rotate(-90) scale(0.97,1)" font-size="8.6" text-anchor="middle" font-weight="bold" font-family="'Liberation Sans',sans-serif" fill="#111" stroke="#111" stroke-width="0.25">H/D</text>
<text transform="translate(157.10,417.80) scale(0.955,1)" font-size="8.3" text-anchor="middle" font-weight="bold" font-family="'Liberation Sans',sans-serif" fill="#111" stroke="#111" stroke-width="0.25">Ttreatments</text>
<text x="136.2" y="439" font-size="11.5" text-anchor="middle" font-family="'Liberation Serif',serif" fill="#111" stroke="#111" stroke-width="0.2">(<tspan font-weight="bold">c</tspan>)</text></g>
<g><rect x="334.66" y="264.79" width="5.8" height="120.71" fill="#1b70c9"/>
<rect x="347.89" y="322.21" width="5.8" height="63.29" fill="#1b70c9"/>
<rect x="361.11" y="287.72" width="5.8" height="97.78" fill="#1b70c9"/>
<rect x="374.34" y="328.08" width="5.8" height="57.42" fill="#1b70c9"/>
<rect x="387.56" y="316.52" width="5.8" height="68.98" fill="#1b70c9"/>
<rect x="400.79" y="304.97" width="5.8" height="80.53" fill="#1b70c9"/>
<rect x="414.01" y="293.59" width="5.8" height="91.91" fill="#1b70c9"/>
<rect x="427.24" y="253.24" width="5.8" height="132.26" fill="#1b70c9"/>
<rect x="440.46" y="270.48" width="5.8" height="115.02" fill="#1b70c9"/>
<rect x="453.69" y="264.79" width="5.8" height="120.71" fill="#1b70c9"/>
<rect x="466.91" y="304.97" width="5.8" height="80.53" fill="#1b70c9"/>
<rect x="480.14" y="282.03" width="5.8" height="103.47" fill="#1b70c9"/>
<rect x="493.36" y="282.03" width="5.8" height="103.47" fill="#1b70c9"/>
<rect x="506.59" y="276.34" width="5.8" height="109.16" fill="#1b70c9"/>
<rect x="519.81" y="276.34" width="5.8" height="109.16" fill="#1b70c9"/>
<rect x="533.04" y="299.28" width="5.8" height="86.22" fill="#1b70c9"/>
<path d="M330.90 229.90V388.10" stroke="#a6a6a6" stroke-width="1.0" fill="none"/>
<path d="M327.90 385.50H542.90" stroke="#a0a0a0" stroke-width="1" fill="none"/>
<path d="M327.90 368.26H330.90M327.90 351.01H330.90M327.90 333.77H330.90M327.90 316.52H330.90M327.90 299.28H330.90M327.90 282.03H330.90M327.90 264.79H330.90M327.90 247.54H330.90M327.90 230.30H330.90" stroke="#b4b4b4" stroke-width="1" fill="none"/>
<text transform="translate(320.70,388.40) scale(1.0,1)" font-size="8.2" text-anchor="end" font-weight="normal" font-family="'Liberation Sans',sans-serif" fill="#222" stroke="#222" stroke-width="0.22">0</text>
<text transform="translate(320.70,371.16) scale(1.0,1)" font-size="8.2" text-anchor="end" font-weight="normal" font-family="'Liberation Sans',sans-serif" fill="#222" stroke="#222" stroke-width="0.22">1</text>
<text transform="translate(320.70,353.91) scale(1.0,1)" font-size="8.2" text-anchor="end" font-weight="normal" font-family="'Liberation Sans',sans-serif" fill="#222" stroke="#222" stroke-width="0.22">2</text>
<text transform="translate(320.70,336.67) scale(1.0,1)" font-size="8.2" text-anchor="end" font-weight="normal" font-family="'Liberation Sans',sans-serif" fill="#222" stroke="#222" stroke-width="0.22">3</text>
<text transform="translate(320.70,319.42) scale(1.0,1)" font-size="8.2" text-anchor="end" font-weight="normal" font-family="'Liberation Sans',sans-serif" fill="#222" stroke="#222" stroke-width="0.22">4</text>
<text transform="translate(320.70,302.18) scale(1.0,1)" font-size="8.2" text-anchor="end" font-weight="normal" font-family="'Liberation Sans',sans-serif" fill="#222" stroke="#222" stroke-width="0.22">5</text>
<text transform="translate(320.70,284.93) scale(1.0,1)" font-size="8.2" text-anchor="end" font-weight="normal" font-family="'Liberation Sans',sans-serif" fill="#222" stroke="#222" stroke-width="0.22">6</text>
<text transform="translate(320.70,267.69) scale(1.0,1)" font-size="8.2" text-anchor="end" font-weight="normal" font-family="'Liberation Sans',sans-serif" fill="#222" stroke="#222" stroke-width="0.22">7</text>
<text transform="translate(320.70,250.44) scale(1.0,1)" font-size="8.2" text-anchor="end" font-weight="normal" font-family="'Liberation Sans',sans-serif" fill="#222" stroke="#222" stroke-width="0.22">8</text>
<text transform="translate(320.70,233.20) scale(1.0,1)" font-size="8.2" text-anchor="end" font-weight="normal" font-family="'Liberation Sans',sans-serif" fill="#222" stroke="#222" stroke-width="0.22">9</text>
<path d="M344.12 385.50V388.20M357.35 385.50V388.20M370.57 385.50V388.20M383.80 385.50V388.20M397.02 385.50V388.20M410.25 385.50V388.20M423.48 385.50V388.20M436.70 385.50V388.20M449.92 385.50V388.20M463.15 385.50V388.20M476.38 385.50V388.20M489.60 385.50V388.20M502.82 385.50V388.20M516.05 385.50V388.20M529.27 385.50V388.20M542.50 385.50V388.20" stroke="#a6a6a6" stroke-width="1" fill="none"/>
<text transform="translate(337.51,257.60) scale(0.95,1)" font-size="8.5" text-anchor="middle" font-weight="normal" font-family="'Liberation Sans',sans-serif" fill="#222" stroke="#222" stroke-width="0.22">ab</text>
<text transform="translate(337.51,399.20) scale(0.93,1)" font-size="8.2" text-anchor="middle" font-weight="normal" font-family="'Liberation Sans',sans-serif" fill="#222" stroke="#222" stroke-width="0.22">T1</text>
<text transform="translate(350.74,314.90) scale(0.95,1)" font-size="8.5" text-anchor="middle" font-weight="normal" font-family="'Liberation Sans',sans-serif" fill="#222" stroke="#222" stroke-width="0.22">de</text>
<text transform="translate(350.74,399.20) scale(0.93,1)" font-size="8.2" text-anchor="middle" font-weight="normal" font-family="'Liberation Sans',sans-serif" fill="#222" stroke="#222" stroke-width="0.22">T2</text>
<text transform="translate(363.96,280.50) scale(0.95,1)" font-size="8.5" text-anchor="middle" font-weight="normal" font-family="'Liberation Sans',sans-serif" fill="#222" stroke="#222" stroke-width="0.22">abcde</text>
<text transform="translate(363.96,399.20) scale(0.93,1)" font-size="8.2" text-anchor="middle" font-weight="normal" font-family="'Liberation Sans',sans-serif" fill="#222" stroke="#222" stroke-width="0.22">T3</text>
<text transform="translate(377.19,320.70) scale(0.95,1)" font-size="8.5" text-anchor="middle" font-weight="normal" font-family="'Liberation Sans',sans-serif" fill="#222" stroke="#222" stroke-width="0.22">e</text>
<text transform="translate(377.19,399.20) scale(0.93,1)" font-size="8.2" text-anchor="middle" font-weight="normal" font-family="'Liberation Sans',sans-serif" fill="#222" stroke="#222" stroke-width="0.22">T4</text>
<text transform="translate(390.41,309.30) scale(0.95,1)" font-size="8.5" text-anchor="middle" font-weight="normal" font-family="'Liberation Sans',sans-serif" fill="#222" stroke="#222" stroke-width="0.22">ede</text>
<text transform="translate(390.41,399.20) scale(0.93,1)" font-size="8.2" text-anchor="middle" font-weight="normal" font-family="'Liberation Sans',sans-serif" fill="#222" stroke="#222" stroke-width="0.22">T5</text>
<text transform="translate(403.64,297.80) scale(0.95,1)" font-size="8.5" text-anchor="middle" font-weight="normal" font-family="'Liberation Sans',sans-serif" fill="#222" stroke="#222" stroke-width="0.22">bcde</text>
<text transform="translate(403.64,399.20) scale(0.93,1)" font-size="8.2" text-anchor="middle" font-weight="normal" font-family="'Liberation Sans',sans-serif" fill="#222" stroke="#222" stroke-width="0.22">T6</text>
<text transform="translate(416.86,286.40) scale(0.95,1)" font-size="8.5" text-anchor="middle" font-weight="normal" font-family="'Liberation Sans',sans-serif" fill="#222" stroke="#222" stroke-width="0.22">abcde</text>
<text transform="translate(416.86,399.20) scale(0.93,1)" font-size="8.2" text-anchor="middle" font-weight="normal" font-family="'Liberation Sans',sans-serif" fill="#222" stroke="#222" stroke-width="0.22">T7</text>
<text transform="translate(430.09,246.20) scale(0.95,1)" font-size="8.5" text-anchor="middle" font-weight="normal" font-family="'Liberation Sans',sans-serif" fill="#222" stroke="#222" stroke-width="0.22">a</text>
<text transform="translate(430.09,399.20) scale(0.93,1)" font-size="8.2" text-anchor="middle" font-weight="normal" font-family="'Liberation Sans',sans-serif" fill="#222" stroke="#222" stroke-width="0.22">T8</text>
<text transform="translate(443.31,263.50) scale(0.95,1)" font-size="8.5" text-anchor="middle" font-weight="normal" font-family="'Liberation Sans',sans-serif" fill="#222" stroke="#222" stroke-width="0.22">de</text>
<text transform="translate(443.31,399.20) scale(0.93,1)" font-size="8.2" text-anchor="middle" font-weight="normal" font-family="'Liberation Sans',sans-serif" fill="#222" stroke="#222" stroke-width="0.22">T9</text>
<text transform="translate(456.54,257.60) scale(0.95,1)" font-size="8.5" text-anchor="middle" font-weight="normal" font-family="'Liberation Sans',sans-serif" fill="#222" stroke="#222" stroke-width="0.22">ef</text>
<text transform="translate(456.54,399.20) scale(0.93,1)" font-size="8.2" text-anchor="middle" font-weight="normal" font-family="'Liberation Sans',sans-serif" fill="#222" stroke="#222" stroke-width="0.22">T10</text>
<text transform="translate(469.76,297.60) scale(0.95,1)" font-size="8.5" text-anchor="middle" font-weight="normal" font-family="'Liberation Sans',sans-serif" fill="#222" stroke="#222" stroke-width="0.22">fg</text>
<text transform="translate(469.76,399.20) scale(0.93,1)" font-size="8.2" text-anchor="middle" font-weight="normal" font-family="'Liberation Sans',sans-serif" fill="#222" stroke="#222" stroke-width="0.22">T11</text>
<text transform="translate(482.99,267.80) scale(0.95,1)" font-size="8.5" text-anchor="middle" font-weight="normal" font-family="'Liberation Sans',sans-serif" fill="#222" stroke="#222" stroke-width="0.22">abcde</text>
<text transform="translate(482.99,399.20) scale(0.93,1)" font-size="8.2" text-anchor="middle" font-weight="normal" font-family="'Liberation Sans',sans-serif" fill="#222" stroke="#222" stroke-width="0.22">T12</text>
<text transform="translate(496.21,274.70) scale(0.95,1)" font-size="8.5" text-anchor="middle" font-weight="normal" font-family="'Liberation Sans',sans-serif" fill="#222" stroke="#222" stroke-width="0.22">abcde</text>
<text transform="translate(496.21,399.20) scale(0.93,1)" font-size="8.2" text-anchor="middle" font-weight="normal" font-family="'Liberation Sans',sans-serif" fill="#222" stroke="#222" stroke-width="0.22">T13</text>
<text transform="translate(510.04,265.30) scale(0.95,1)" font-size="8.5" text-anchor="middle" font-weight="normal" font-family="'Liberation Sans',sans-serif" fill="#222" stroke="#222" stroke-width="0.22">abcd</text>
<text transform="translate(509.44,399.20) scale(0.93,1)" font-size="8.2" text-anchor="middle" font-weight="normal" font-family="'Liberation Sans',sans-serif" fill="#222" stroke="#222" stroke-width="0.22">T14</text>
<text transform="translate(524.26,270.90) scale(0.95,1)" font-size="8.5" text-anchor="middle" font-weight="normal" font-family="'Liberation Sans',sans-serif" fill="#222" stroke="#222" stroke-width="0.22">abcd</text>
<text transform="translate(522.66,399.20) scale(0.93,1)" font-size="8.2" text-anchor="middle" font-weight="normal" font-family="'Liberation Sans',sans-serif" fill="#222" stroke="#222" stroke-width="0.22">T15</text>
<text transform="translate(535.89,292.20) scale(0.95,1)" font-size="8.5" text-anchor="middle" font-weight="normal" font-family="'Liberation Sans',sans-serif" fill="#222" stroke="#222" stroke-width="0.22">abcde</text>
<text transform="translate(535.89,399.20) scale(0.93,1)" font-size="8.2" text-anchor="middle" font-weight="normal" font-family="'Liberation Sans',sans-serif" fill="#222" stroke="#222" stroke-width="0.22">CK</text>
<path d="M337.51 259.44V270.13M335.01 259.44h5M335.01 270.13h5M350.74 316.87V327.56M348.24 316.87h5M348.24 327.56h5M363.96 282.38V293.07M361.46 282.38h5M361.46 293.07h5M377.19 322.73V333.42M374.69 322.73h5M374.69 333.42h5M390.41 311.18V321.87M387.91 311.18h5M387.91 321.87h5M403.64 299.62V310.31M401.14 299.62h5M401.14 310.31h5M416.86 288.24V298.93M414.36 288.24h5M414.36 298.93h5M430.09 247.89V258.58M427.59 247.89h5M427.59 258.58h5M443.31 265.13V275.83M440.81 265.13h5M440.81 275.83h5M456.54 259.44V270.13M454.04 259.44h5M454.04 270.13h5M469.76 299.62V310.31M467.26 299.62h5M467.26 310.31h5M482.99 276.69V287.38M480.49 276.69h5M480.49 287.38h5M496.21 276.69V287.38M493.71 276.69h5M493.71 287.38h5M509.44 271.00V281.69M506.94 271.00h5M506.94 281.69h5M522.66 271.00V281.69M520.16 271.00h5M520.16 281.69h5M535.89 293.93V304.62M533.39 293.93h5M533.39 304.62h5" stroke="#1a1a1a" stroke-width="0.95" fill="none"/>
<text transform="translate(311.40,307.70) rotate(-90) scale(0.88,1)" font-size="8.6" text-anchor="middle" font-weight="bold" font-family="'Liberation Sans',sans-serif" fill="#111" stroke="#111" stroke-width="0.25">Branch number</text>
<text transform="translate(433.50,413.00) scale(0.955,1)" font-size="8.3" text-anchor="middle" font-weight="bold" font-family="'Liberation Sans',sans-serif" fill="#111" stroke="#111" stroke-width="0.25">Treatments</text>
<text x="422.6" y="438.9" font-size="11.5" text-anchor="middle" font-family="'Liberation Serif',serif" fill="#111" stroke="#111" stroke-width="0.2">(<tspan font-weight="bold">d</tspan>)</text></g>
</svg>
</body></html>
